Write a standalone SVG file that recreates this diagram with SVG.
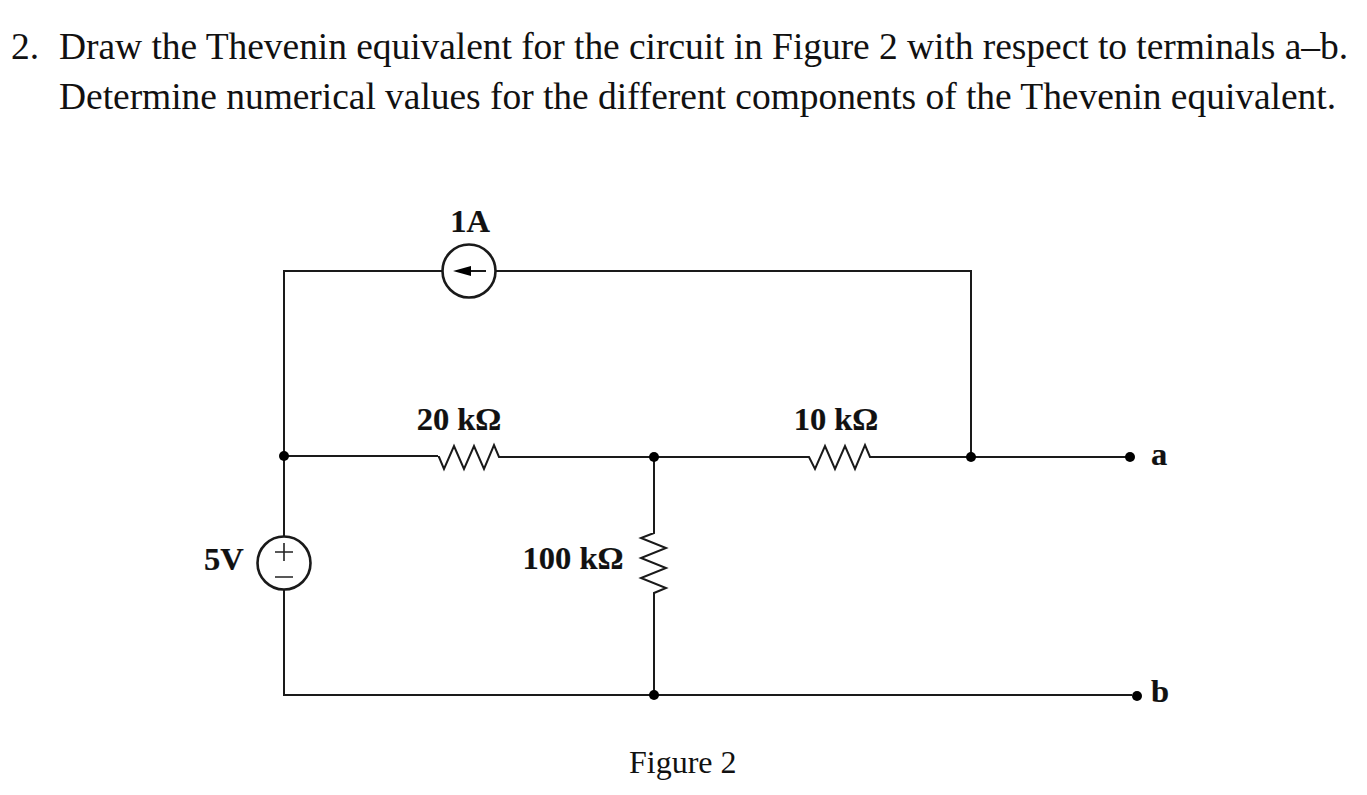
<svg xmlns="http://www.w3.org/2000/svg" width="1367" height="795" viewBox="0 0 1367 795">
<style>
.t{font-family:"Liberation Serif","Times New Roman",serif;fill:#111}
.h{font-size:37.5px}
.l{font-size:32.5px;font-weight:bold;stroke:#111;stroke-width:.2}
.w{fill:none;stroke:#1a1a1a;stroke-width:2}
.c{fill:none;stroke:#1a1a1a;stroke-width:2.6}
.d{fill:#000}
</style>
<rect width="1367" height="795" fill="#fff"/>
<text class="t h" x="11" y="59">2.</text>
<text class="t h" x="59" y="59" textLength="1289" lengthAdjust="spacing">Draw the Thevenin equivalent for the circuit in Figure 2 with respect to terminals a–b.</text>
<text class="t h" x="59" y="109" textLength="1277" lengthAdjust="spacing">Determine numerical values for the different components of the Thevenin equivalent.</text>
<g id="connectors">
<path class="w" d="M442 271H284V536M496 271H971V456"/>
<path class="w" d="M284 590V695H1132"/>
<path class="w" d="M284 456H438M510 457H805M880 457H1132"/>
<path class="w" d="M654 457V532M654 593V695"/>
</g>
<g id="source-1A">
<circle class="c" cx="469" cy="271" r="26.500"/>
<path class="w" d="M460 271H486"/>
<path class="d" d="M453 271L471 266V276Z"/>
<text class="t l" x="470" y="232" text-anchor="middle">1A</text>
</g>
<g id="source-5V">
<circle class="c" cx="284" cy="563" r="26.500"/>
<path d="M275 552H293M284 543V561M275 577H293" fill="none" stroke="#222" stroke-width="1.600"/>
<text class="t l" x="204" y="570">5V</text>
</g>
<g id="r-20k">
<path class="w" d="M438 457H439L444 469L454 446L464 469L474 446L484 469L494 445L499 457H510"/>
<text class="t l" x="459" y="430" text-anchor="middle">20 kΩ</text>
</g>
<g id="r-10k">
<path class="w" d="M805 457H809L815 469L825 446L835 469L845 446L855 469L865 445L870 457H880"/>
<text class="t l" x="836" y="430" text-anchor="middle">10 kΩ</text>
</g>
<g id="r-100k">
<path class="w" d="M654 532V533L641 538L666 548L641 558L666 568L641 578L666 588L654 593V600"/>
<text class="t l" x="573" y="569" text-anchor="middle">100 kΩ</text>
</g>
<g id="junctions">
<circle class="d" cx="284" cy="456" r="5"/>
<circle class="d" cx="654" cy="457" r="5"/>
<circle class="d" cx="971" cy="457" r="5"/>
<circle class="d" cx="654" cy="695" r="5"/>
</g>
<g id="terminal-a">
<circle class="d" cx="1130" cy="457" r="5"/>
<text class="t l" x="1151" y="465">a</text>
</g>
<g id="terminal-b">
<circle class="d" cx="1137" cy="696" r="5"/>
<text class="t l" x="1151" y="702">b</text>
</g>
<text class="t" x="629" y="773" font-size="32">Figure 2</text>
</svg>
